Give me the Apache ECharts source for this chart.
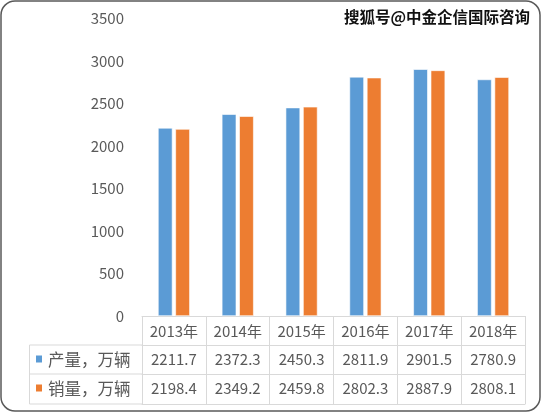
<!DOCTYPE html>
<html>
<head>
<meta charset="utf-8">
<script src="https://cdn.jsdelivr.net/npm/echarts@6/dist/echarts.min.js"></script>
<style>
  html, body { margin: 0; padding: 0; background: #fff; }
  #chart { width: 543px; height: 414px; }
</style>
</head>
<body>
<div id="chart"></div>
<script>
// data
var years = ['2013年', '2014年', '2015年', '2016年', '2017年', '2018年'];
var seriesNames = ['产量，万辆', '销量，万辆'];
var production = [2211.7, 2372.3, 2450.3, 2811.9, 2901.5, 2780.9];
var sales = [2198.4, 2349.2, 2459.8, 2802.3, 2887.9, 2808.1];
var colors = ['#5b9bd5', '#ed7d31'];

var font = '"Noto Sans CJK SC", "Noto Sans", sans-serif';
var textColor = '#595959';
var lineColor = '#d9d9d9';

var chart = echarts.init(document.getElementById('chart'));

// one category axis per table row, shifted down with offset
function tableAxis(offset, margin, values, ticks) {
  return {
    type: 'category',
    data: years,
    position: 'bottom',
    offset: offset,
    axisLine: { show: true, lineStyle: { color: lineColor, width: 1 } },
    axisTick: { show: ticks, interval: 0, length: 88, lineStyle: { color: lineColor } },
    axisLabel: {
      show: !!values,
      interval: 0,
      margin: margin,
      color: textColor,
      fontFamily: font,
      fontSize: 15,
      lineHeight: 16,
      formatter: function (v, i) {
        return values ? values[i] : '';
      }
    },
    splitLine: { show: false }
  };
}

var legendRows = [345, 374];

var option = {
  animation: false,
  grid: { left: 142, right: 18, top: 18.3, bottom: 98 },
  xAxis: [
    tableAxis(0, 7, years, true),
    tableAxis(29, 6.5, production.map(function (v) { return v.toFixed(1); }), false),
    tableAxis(58, 6, sales.map(function (v) { return v.toFixed(1); }), false),
    tableAxis(88, 0, null, false)
  ],
  yAxis: {
    type: 'value',
    min: 0,
    max: 3500,
    interval: 500,
    axisLine: { show: false },
    axisTick: { show: false },
    splitLine: { show: false },
    axisLabel: {
      color: textColor, fontFamily: font, fontSize: 15, margin: 18,
      formatter: function (v) { return String(v); }
    }
  },
  series: [
    {
      name: seriesNames[0], type: 'bar', data: production,
      barWidth: 14.5, barGap: '20%',
      itemStyle: { color: colors[0], borderColor: '#fff', borderWidth: 0.6 }
    },
    {
      name: seriesNames[1], type: 'bar', data: sales,
      barWidth: 14.5,
      itemStyle: { color: colors[1], borderColor: '#fff', borderWidth: 0.6 }
    }
  ],
  graphic: [
    {
      type: 'rect',
      shape: { x: 1, y: 1, width: 539, height: 410, r: 14 },
      style: { fill: 'none', stroke: '#595959', lineWidth: 1.5 },
      silent: true
    },
    {
      type: 'text',
      right: 12,
      top: 8,
      style: {
        text: '搜狐号@中金企信国际咨询',
        font: 'bold 15.5px ' + font,
        fill: '#111',
        stroke: '#fff',
        lineWidth: 2
      },
      z: 100
    }
  ]
};

// legend column of the data table
option.graphic.push({
  type: 'line', shape: { x1: 29.5, y1: 345, x2: 142, y2: 345 },
  style: { stroke: lineColor, lineWidth: 1 }
});
option.graphic.push({
  type: 'line', shape: { x1: 29.5, y1: 374, x2: 142, y2: 374 },
  style: { stroke: lineColor, lineWidth: 1 }
});
option.graphic.push({
  type: 'line', shape: { x1: 29.5, y1: 404, x2: 142, y2: 404 },
  style: { stroke: lineColor, lineWidth: 1 }
});
option.graphic.push({
  type: 'line', shape: { x1: 29.5, y1: 345, x2: 29.5, y2: 404 },
  style: { stroke: lineColor, lineWidth: 1 }
});
seriesNames.forEach(function (name, i) {
  var top = legendRows[i];
  option.graphic.push({
    type: 'rect',
    shape: { x: 36, y: top + 10.5, width: 6, height: 7 },
    style: { fill: colors[i] }
  });
  option.graphic.push({
    type: 'text',
    x: 48,
    y: top + 14.5,
    style: {
      text: name,
      font: '16.5px ' + font,
      fill: textColor,
      verticalAlign: 'middle'
    }
  });
});

chart.setOption(option);
</script>
</body>
</html>
